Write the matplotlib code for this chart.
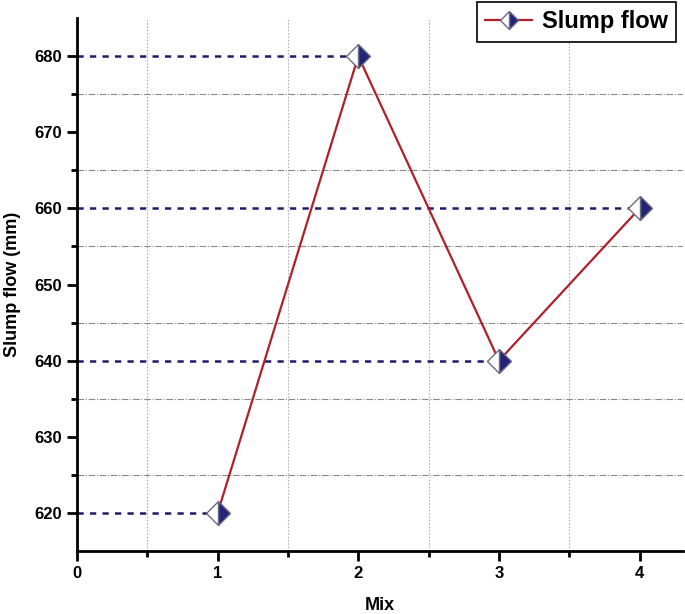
import numpy as np
import matplotlib.pyplot as plt

plt.rcParams['font.family'] = ['Liberation Sans', 'DejaVu Sans']

# 数据
mix = [1, 2, 3, 4]
slump_flow = [620, 680, 640, 660]
x_ticks = [0, 1, 2, 3, 4]
y_ticks = [620, 630, 640, 650, 660, 670, 680]

fig = plt.figure(figsize=(6.85, 6.14), dpi=100)
ax = fig.add_axes([0.1124, 0.1026, 0.885, 0.868])

# 网格（次刻度）
ax.set_xticks(np.arange(0.5, 4.3, 1.0), minor=True)
ax.set_yticks(np.arange(625, 685, 10), minor=True)
ax.grid(True, which='minor', axis='y', color='#8a8a8a', linestyle=(0, (6, 1.5, 1, 1.5)), linewidth=0.8)
ax.grid(True, which='minor', axis='x', color='#b0b0b0', linestyle=(0, (1.5, 1.5)), linewidth=0.8)

# 虚线引线
for xv, yv in zip(mix, slump_flow):
    ax.plot([0, xv], [yv, yv], color='#1c1c6b', linestyle=(0, (2.5, 2.5)), linewidth=1.8, zorder=2)

# 主曲线
ax.plot(mix, slump_flow, color='#b0202a', linewidth=1.6, marker='D', markersize=12,
        fillstyle='right', markerfacecolor='#23237a', markerfacecoloralt='white',
        markeredgecolor='#6a6a80', markeredgewidth=1.0, label='Slump flow', zorder=3)

ax.set_xlim(0, 4.31)
ax.set_ylim(615, 685)
ax.set_xticks(x_ticks)
ax.set_yticks(y_ticks)

for s in ['top', 'right']:
    ax.spines[s].set_visible(False)
for s in ['left', 'bottom']:
    ax.spines[s].set_linewidth(2.0)

ax.tick_params(which='major', direction='out', length=7, width=2, labelsize=12)
ax.tick_params(which='minor', direction='out', length=4, width=2)
for lab in ax.get_xticklabels() + ax.get_yticklabels():
    lab.set_fontweight('bold')

ax.set_xlabel('Mix', fontsize=13, fontweight='bold', labelpad=12)
ax.set_ylabel('Slump flow (mm)', fontsize=13, fontweight='bold', labelpad=10)

leg = ax.legend(loc='upper right', bbox_to_anchor=(0.988, 1.030), borderaxespad=0,
                prop={'weight': 'bold', 'size': 17}, fancybox=False, framealpha=1,
                edgecolor='black', handlelength=2.0, borderpad=0.35, handletextpad=0.4,
                markerscale=0.8)
leg.get_frame().set_linewidth(1.2)

plt.savefig('out.png', dpi=100)
